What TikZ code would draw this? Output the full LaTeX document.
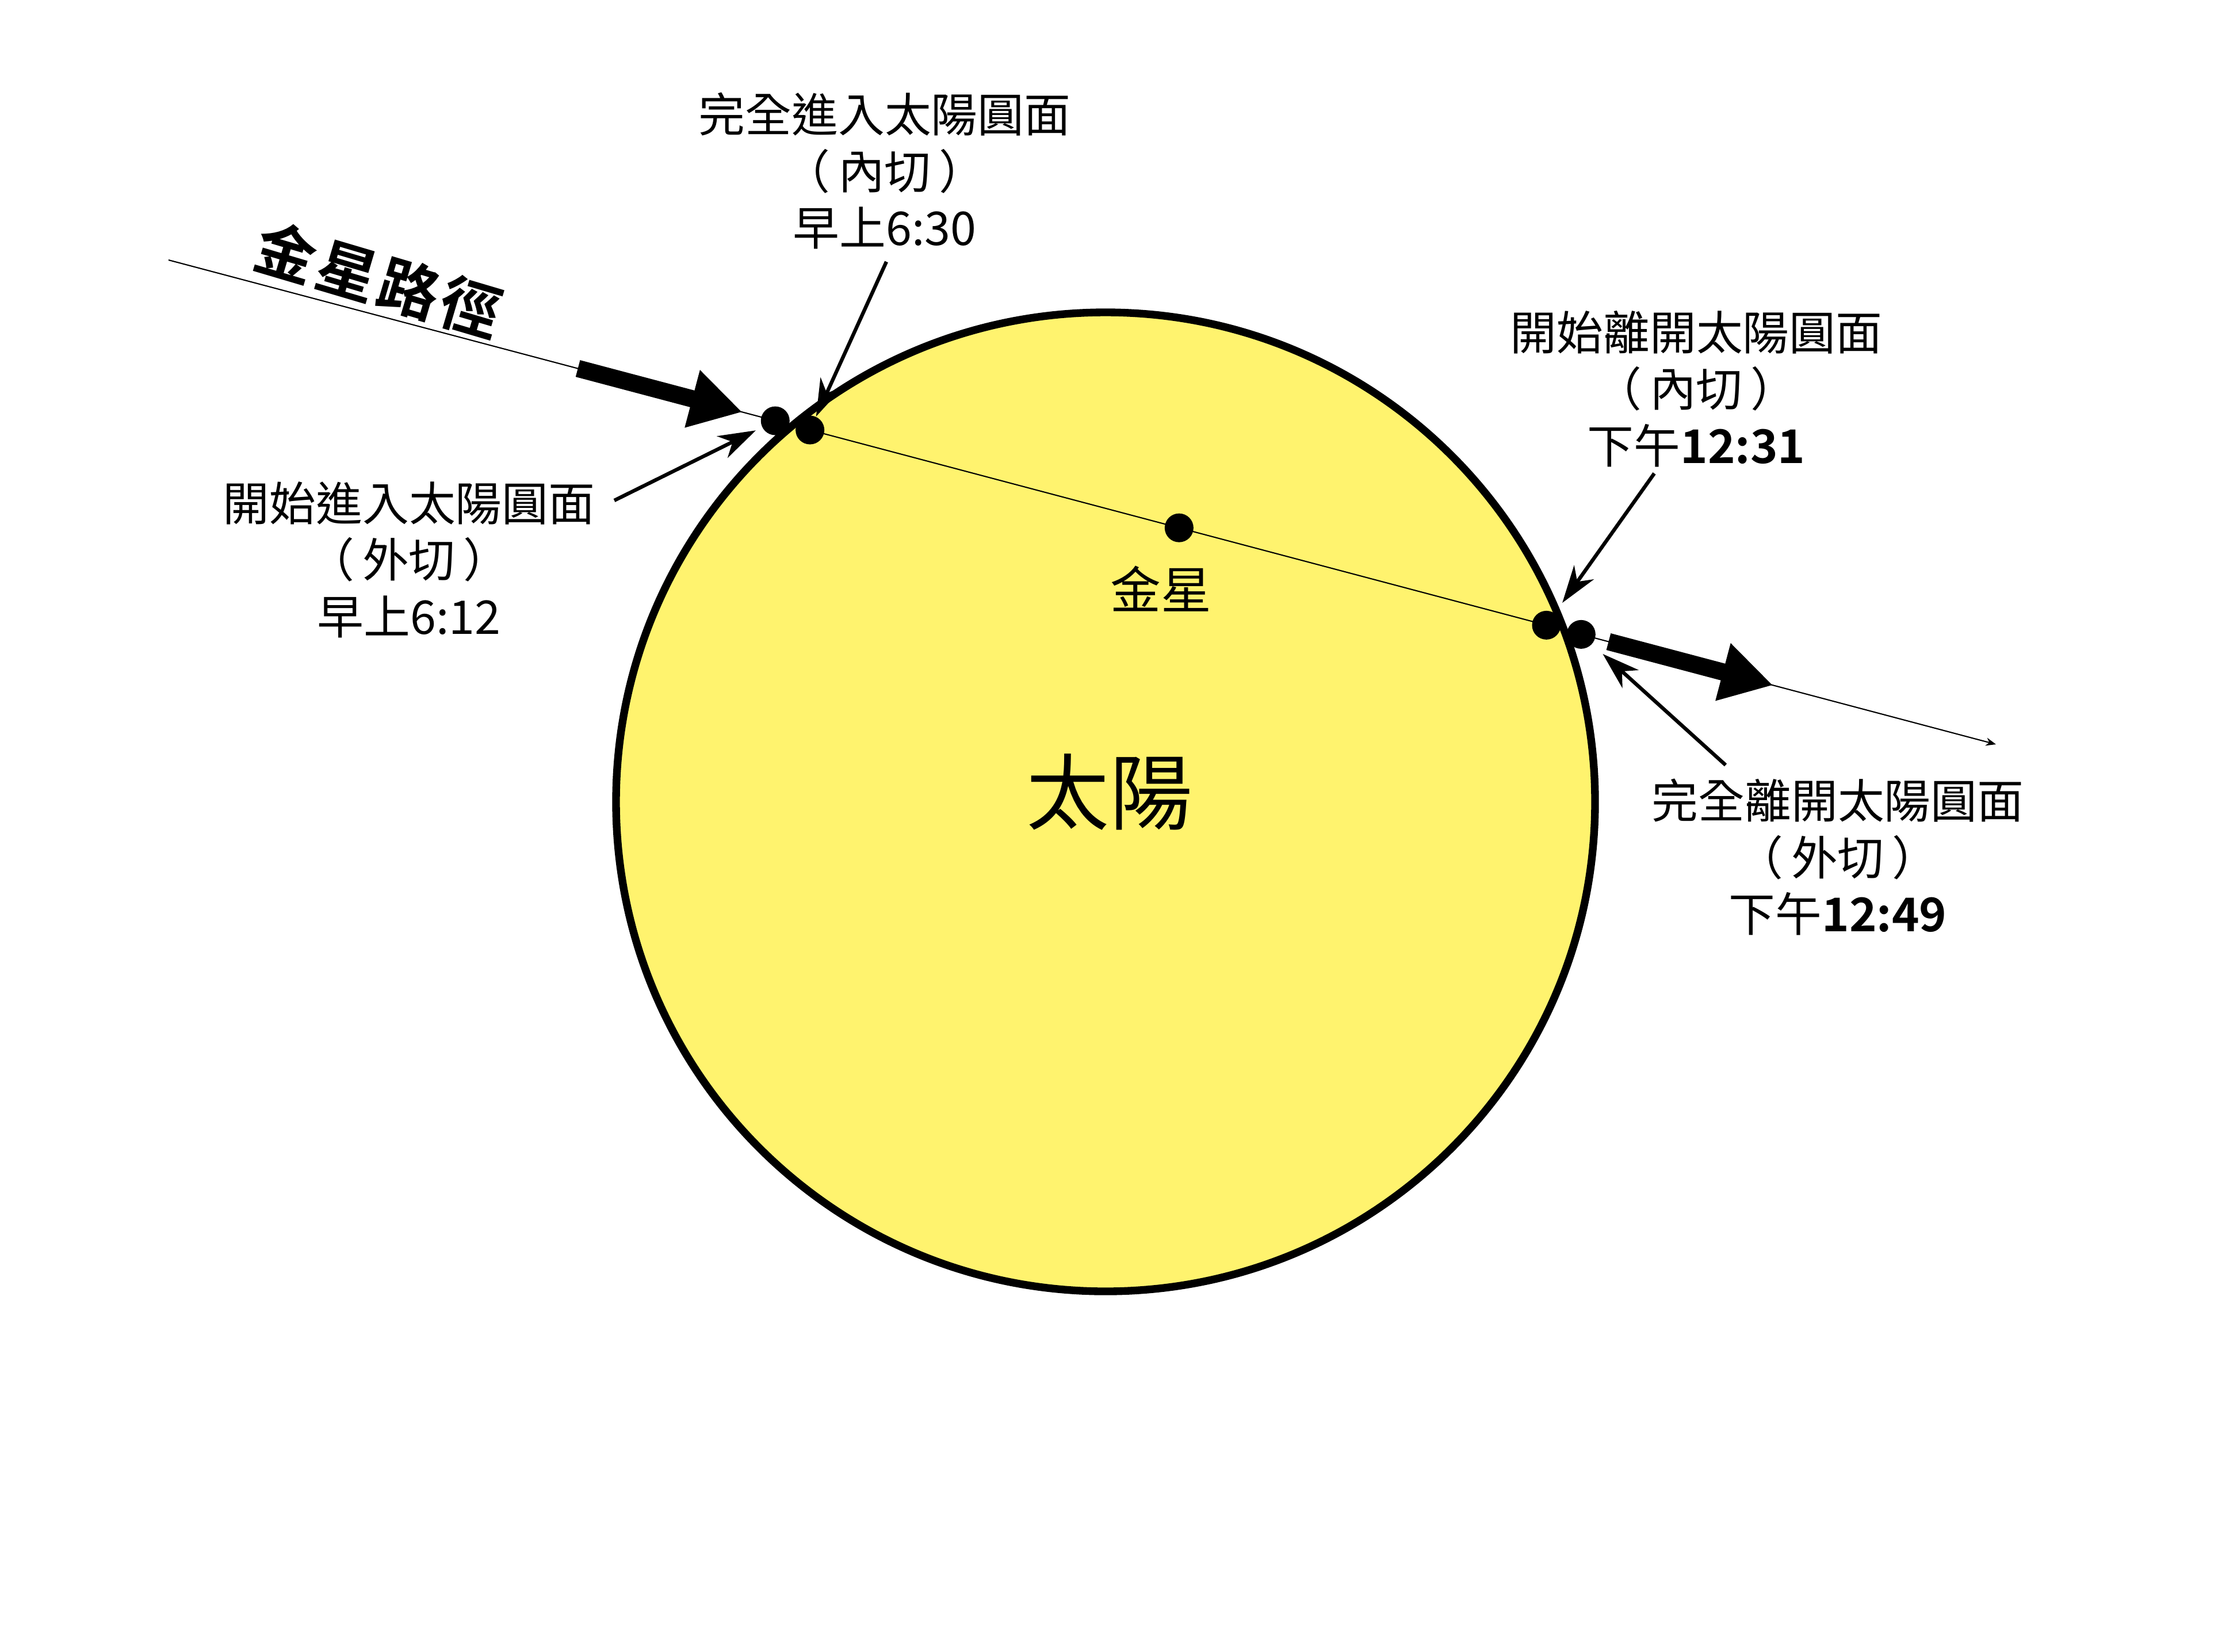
\documentclass[tikz,border=0pt]{standalone}
\usepackage{fontspec}
\setmainfont{Noto Sans CJK TC}[BoldFont={Noto Sans CJK TC Bold}]
\usetikzlibrary{arrows.meta,calc}
\definecolor{sunyellow}{RGB}{255,243,110}
\begin{document}
\begin{tikzpicture}[x=1cm, y=-1cm,
  dot/.style={circle, fill=black, inner sep=0pt, minimum size=0.5cm},
  lbl/.style={align=center, font=\fontsize{23}{28}\selectfont\addfontfeature{RawFeature=+halt}},
  ptr/.style={-{Stealth[length=0.65cm, width=0.42cm, inset=0.2cm]}, line width=1.8pt},
  bigarrow/.style={-{Triangle[length=0.9cm, width=0.97cm]}, line width=0.3cm}]
\useasboundingbox (0,0) rectangle (38.63,28.71);
\node[circle, draw, line width=3.8pt, fill=sunyellow, minimum size=17.02cm, inner sep=0pt] (sun) at (19.22,13.94) {};
\node[font=\fontsize{41}{48}\selectfont] (sunname) at (19.29,13.77) {太陽};
% path of Venus
\coordinate (ps) at (2.93,4.52);
\coordinate (pe) at (34.70,12.94);
\draw[line width=0.6pt, -{Stealth[length=5pt, width=4pt]}] (ps) -- (pe);
\node[dot] (d1) at ($(ps)!0.332!(pe)$) {};
\node[dot] (d2) at ($(ps)!0.351!(pe)$) {};
\node[dot] (d3) at ($(ps)!0.553!(pe)$) {};
\node[dot] (d4) at ($(ps)!0.754!(pe)$) {};
\node[dot] (d5) at ($(ps)!0.773!(pe)$) {};
\node[font=\fontsize{25}{30}\selectfont] (venus) at (20.18,10.24) {金星};
\node[font=\bfseries\fontsize{30}{36}\selectfont, rotate=-16.5] (route) at (6.58,4.86) {金\hspace{0.06em}星\hspace{0.06em}路\hspace{0.06em}徑};
% direction arrows
\coordinate (inS) at ($(ps)!0.224!(pe)$);
\coordinate (inE) at ($(ps)!0.314!(pe)$);
\coordinate (outS) at ($(ps)!0.788!(pe)$);
\coordinate (outE) at ($(ps)!0.878!(pe)$);
\draw[bigarrow] (inS) -- (inE);
\draw[bigarrow] (outS) -- (outE);
% labels
\node[lbl] (inT) at (15.38,2.97) {完全進入太陽圓面\\（\,內切\,）\\早上6:30};
\node[lbl] (outA) at (7.11,9.73) {開始進入太陽圓面\\（\,外切\,）\\早上6:12};
\node[lbl] (inB) at (29.49,6.76) {開始離開太陽圓面\\（\,內切\,）\\下午\textbf{12:31}};
\node[lbl] (outB) at (31.95,14.90) {完全離開太陽圓面\\（\,外切\,）\\下午\textbf{12:49}};
\coordinate (tT) at (15.41,4.55);
\coordinate (tA) at (10.68,8.70);
\coordinate (tB) at (28.76,8.23);
\coordinate (tC) at (30.00,13.30);
\draw[ptr] (tT) -- (d2);
\draw[ptr, shorten >=0.12cm] (tA) -- (d1);
\draw[ptr, shorten >=0.22cm] (tB) -- (d4);
\draw[ptr, shorten >=0.25cm] (tC) -- (d5);
\end{tikzpicture}
\end{document}
